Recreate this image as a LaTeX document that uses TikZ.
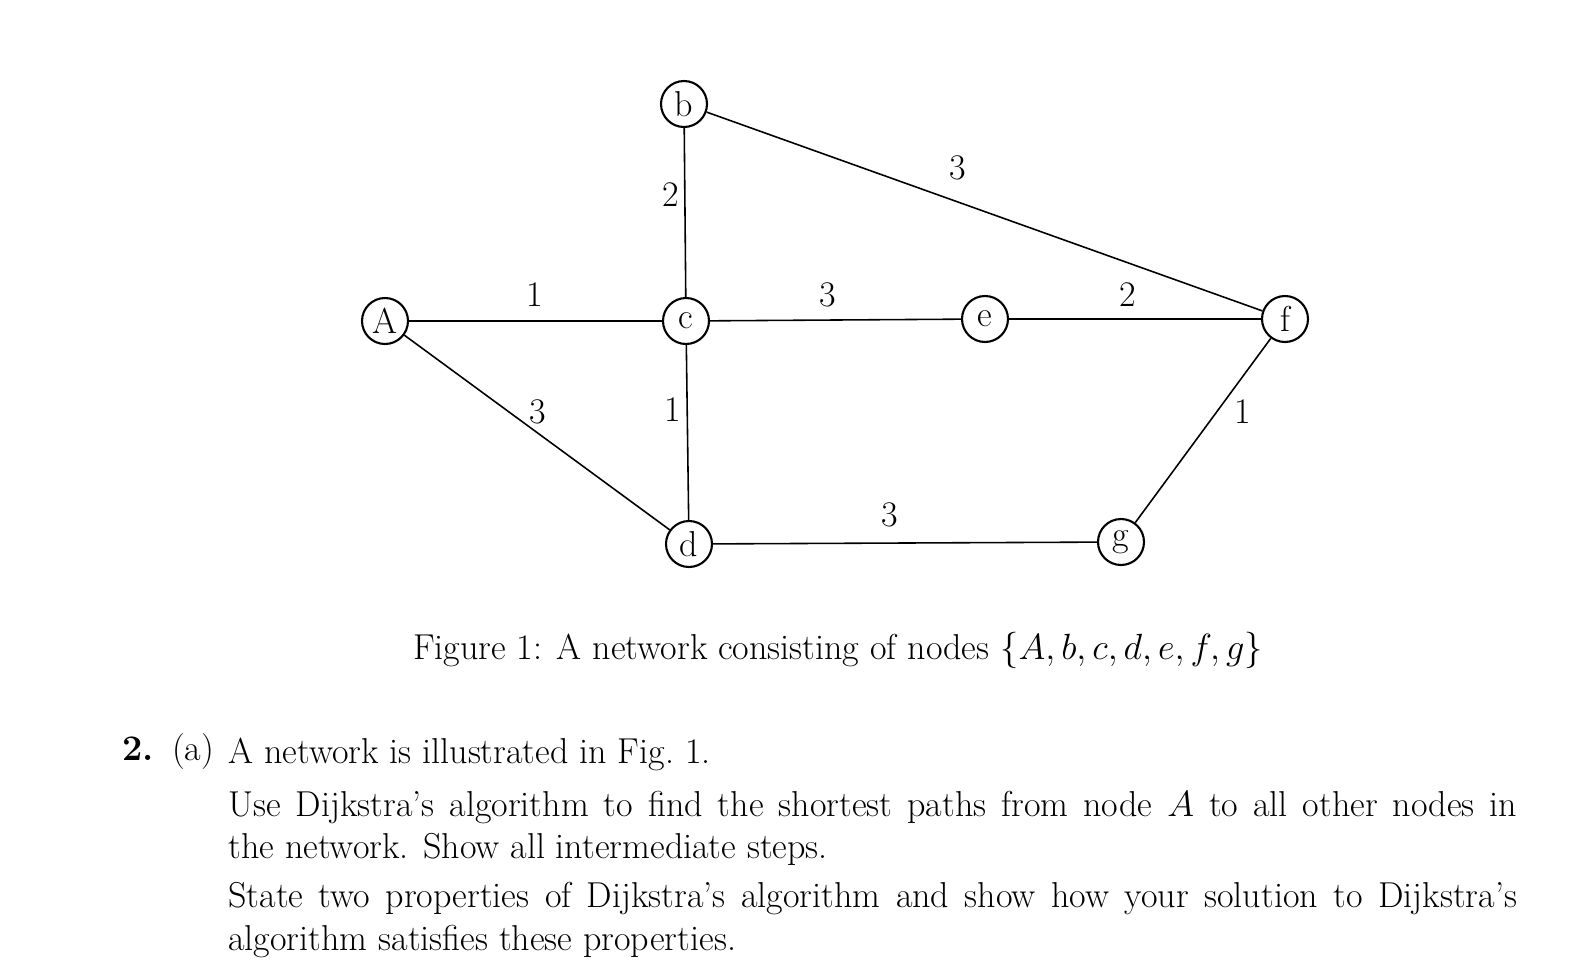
\documentclass[tikz,border=0pt]{standalone}
\begin{document}
\begin{tikzpicture}[x=0.02cm,y=-0.02cm,
  vert/.style={circle,draw,line width=1.2pt,minimum size=0.92cm,inner sep=0pt,font=\fontsize{20.5}{24}\selectfont},
  edge/.style={line width=0.9pt},
  wt/.style={font=\fontsize{20.5}{24}\selectfont}]
\useasboundingbox (0,0) rectangle (1596,964);
\node[vert] (A) at (385,321) {A};
\node[vert] (b) at (684,104) {b};
\node[vert] (c) at (686,321) {c};
\node[vert] (e) at (985,319) {e};
\node[vert] (f) at (1285,319) {f};
\node[vert] (d) at (689,544) {d};
\node[vert] (g) at (1121,542) {g};
\draw[edge] (A)--(c); \draw[edge] (c)--(e); \draw[edge] (e)--(f);
\draw[edge] (b)--(f); \draw[edge] (b)--(c); \draw[edge] (c)--(d);
\draw[edge] (A)--(d); \draw[edge] (d)--(g); \draw[edge] (g)--(f);
\node[wt] (w1) at (535,295) {1};
\node[wt] (w2) at (828,295) {3};
\node[wt] (w3) at (1128,295) {2};
\node[wt] (w4) at (958,168) {3};
\node[wt] (w5) at (671,195) {2};
\node[wt] (w6) at (538,412) {3};
\node[wt] (w7) at (673,410) {1};
\node[wt] (w8) at (1243,412) {1};
\node[wt] (w9) at (890,515) {3};
\node[font=\fontsize{20.5}{24}\selectfont] (cap) at (838,650) {Figure 1: A network consisting of nodes $\{A,b,c,d,e,f,g\}$};
\node[font=\fontsize{20.5}{24}\selectfont\bfseries,anchor=base west] (num) at (116,760) {2.};
\node[font=\fontsize{20.5}{24}\selectfont,anchor=base west] (part) at (166,760) {(a)};
\node[font=\fontsize{20.5}{24}\selectfont,anchor=north west,inner sep=0pt,text width=25.78cm,align=justify] (body) at (228,738) {\hyphenpenalty=10000 A network is illustrated in Fig.~1.\\[6pt]
Use Dijkstra's algorithm to find the shortest paths from node $A$ to all other nodes in\linebreak the network. Show all intermediate steps.\par\vspace{4pt}
State two properties of Dijkstra's algorithm and show how your solution to Dijkstra's algorithm satisfies these properties.};
\end{tikzpicture}
\end{document}
